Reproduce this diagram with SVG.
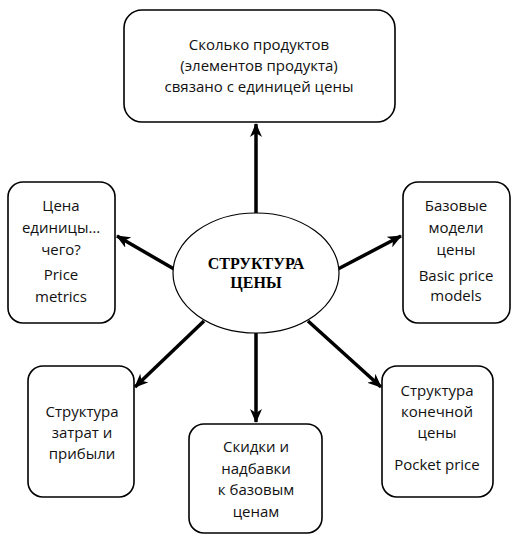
<svg xmlns="http://www.w3.org/2000/svg" width="520" height="541" viewBox="0 0 520 541">
<style>
.box{fill:#fff;stroke:#000;stroke-width:1.6}
.t{font-family:"Open Sans","Liberation Sans",sans-serif;font-size:15px;fill:#111;text-anchor:middle}
.c{font-family:"Liberation Serif","Times New Roman",serif;font-size:16px;font-weight:bold;fill:#000;text-anchor:middle}
.ar{stroke:#000;stroke-width:3.5;fill:none;marker-end:url(#ah)}
</style>
<defs>
<marker id="ah" markerUnits="userSpaceOnUse" viewBox="0 0 14 12" refX="13" refY="6" markerWidth="14" markerHeight="12" orient="auto">
<path d="M0,0 L14,6 L0,12 L4,6 z" fill="#000"/>
</marker>
</defs>
<rect width="520" height="541" fill="#fff"/>
<g id="connectors">
<line class="ar" x1="256" y1="213" x2="256" y2="124"/>
<line class="ar" x1="174" y1="269" x2="117" y2="236"/>
<line class="ar" x1="338" y1="269" x2="401" y2="236"/>
<line class="ar" x1="204" y1="321" x2="135" y2="387"/>
<line class="ar" x1="256" y1="333" x2="256" y2="422"/>
<line class="ar" x1="308" y1="321" x2="381" y2="387"/>
</g>
<g id="top">
<rect class="box" x="124" y="10" width="271" height="112" rx="18"/>
<text class="t" x="259" y="50">Сколько продуктов</text>
<text class="t" x="259" y="71">(элементов продукта)</text>
<text class="t" x="259" y="92">связано с единицей цены</text>
</g>
<g id="center">
<ellipse cx="256" cy="273" rx="83" ry="60" fill="#fff" stroke="#000" stroke-width="1.2"/>
<text class="c" x="256" y="269">СТРУКТУРА</text>
<text class="c" x="256" y="288">ЦЕНЫ</text>
</g>
<g id="left">
<rect class="box" x="8" y="182" width="107" height="141" rx="15"/>
<text class="t" x="61" y="211">Цена</text>
<text class="t" x="61" y="233">единицы…</text>
<text class="t" x="61" y="255">чего?</text>
<text class="t" x="61" y="280">Price</text>
<text class="t" x="61" y="302">metrics</text>
</g>
<g id="right">
<rect class="box" x="403" y="182" width="107" height="141" rx="15"/>
<text class="t" x="456" y="211">Базовые</text>
<text class="t" x="456" y="233">модели</text>
<text class="t" x="456" y="255">цены</text>
<text class="t" x="456" y="281">Basic price</text>
<text class="t" x="456" y="301">models</text>
</g>
<g id="bottom-left">
<rect class="box" x="28" y="366" width="106" height="131" rx="15"/>
<text class="t" x="82" y="417">Структура</text>
<text class="t" x="82" y="438">затрат и</text>
<text class="t" x="82" y="459">прибыли</text>
</g>
<g id="bottom-center">
<rect class="box" x="189" y="424" width="133" height="109" rx="15"/>
<text class="t" x="256" y="452">Скидки и</text>
<text class="t" x="256" y="474">надбавки</text>
<text class="t" x="256" y="495">к базовым</text>
<text class="t" x="256" y="517">ценам</text>
</g>
<g id="bottom-right">
<rect class="box" x="382" y="366" width="111" height="131" rx="15"/>
<text class="t" x="437" y="396">Структура</text>
<text class="t" x="437" y="417">конечной</text>
<text class="t" x="437" y="438">цены</text>
<text class="t" x="437" y="470">Pocket price</text>
</g>
</svg>
